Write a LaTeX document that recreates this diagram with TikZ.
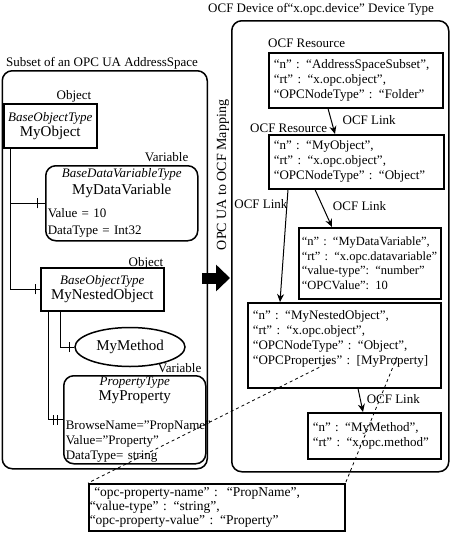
\documentclass[tikz,border=0pt]{standalone}
\usepackage{fontspec}
\setmainfont{Liberation Serif}
\usetikzlibrary{arrows.meta,shapes.geometric,decorations.markings}
\setlength{\parindent}{0pt}
\newcommand{\basefont}{\fontsize{13}{15}\selectfont}
\newcommand{\namefont}{\fontsize{15}{17}\selectfont}

\begin{document}
\begin{tikzpicture}[x=1pt,y=-1pt,
  every node/.style={font=\basefont},
  areabox/.style={draw,line width=1.5pt,rounded corners=10pt,anchor=north west,inner sep=0pt},
  uabox/.style={draw,line width=1.5pt,anchor=north west,align=left,inner xsep=2pt,inner ysep=0pt},
  resbox/.style={draw,line width=1.5pt,anchor=north west,align=left,inner xsep=5pt,inner ysep=0pt},
  lbl/.style={inner sep=0pt},
  ocflink/.style={line width=1pt,-{Stealth[length=8pt,width=7pt]}},
  onebar/.style={postaction={decorate,decoration={markings,
      mark=at position -#1 with {\draw[line width=0.8pt] (0,-5pt) -- (0,5pt);}}}},
  twobar/.style={postaction={decorate,decoration={markings,
      mark=at position -10pt with {\draw[line width=0.8pt] (0,-5pt) -- (0,5pt);},
      mark=at position -6pt with {\draw[line width=0.8pt] (0,-5pt) -- (0,5pt);}}}}]
\useasboundingbox (0,0) rectangle (474,533);

% OPC UA address space
\node[lbl,anchor=base west] (uatitle) at (6,66) {Subset of an OPC UA AddressSpace};
\node[areabox,minimum width=205,minimum height=398] (uaspace) at (1.5,70) {};

\node[uabox,align=center,text width=89,minimum height=44] (myobj) at (3,103)
  {\textit{BaseObjectType}\\{\namefont MyObject}};
\node[lbl,anchor=base east] (objlabel) at ([shift={(-6,-4)}]myobj.north east) {Object};

\node[uabox,rounded corners=10pt,text width=148,minimum height=75] (mydatavar) at (45,165)
  {{\centering\baselineskip=17pt\textit{BaseDataVariableType}\\{\namefont MyDataVariable}\par}%
   \vspace{6pt}{\baselineskip=17pt Value = 10\\DataType = Int32\par}};
\node[lbl,anchor=base east] (varlabel) at ([shift={(-10,-4)}]mydatavar.north east) {Variable};

\node[uabox,align=center,text width=119,minimum height=43] (nestobj) at (40,267)
  {\textit{BaseObjectType}\\{\namefont MyNestedObject}};
\node[lbl,anchor=base east] (nestlabel) at ([shift={(-1,-1)}]nestobj.north east) {Object};

\node[draw,line width=1.5pt,ellipse,minimum width=110,minimum height=39,inner sep=0pt,
  font=\namefont] (mymethod) at (130,347) {MyMethod};

\node[uabox,rounded corners=10pt,text width=138,minimum height=88] (myprop) at (63,375)
  {{\centering\textit{PropertyType}\\{\namefont MyProperty}\par}%
   \vspace{14pt}BrowseName="PropName"\\Value="Property"\\DataType= string};
\node[lbl,anchor=base east] (proplabel) at ([shift={(-5,-3)}]myprop.north east) {Variable};

% references
\draw[line width=0.8pt,onebar=8pt] ([xshift=7]myobj.south west) |- (mydatavar.west);
\draw[line width=0.8pt,onebar=5pt] ([xshift=7]myobj.south west) |- (nestobj.west);
\draw[line width=0.8pt,onebar=5pt] ([xshift=20]nestobj.south west) |- (mymethod.west);
\draw[line width=0.8pt,twobar] ([xshift=8]nestobj.south west) |- (myprop.west);

% mapping
\node[font=\fontsize{14}{16}\selectfont,rotate=90] (maplabel) at (223,175) {OPC UA to OCF Mapping};
\draw[line width=11pt,-{Triangle[length=14pt,width=26pt]}] (202,278) -- (230,278);

% OCF device
\node[lbl,anchor=base west] (ocftitle) at (208,12) {OCF Device of“x.opc.device” Device Type};
\node[areabox,minimum width=217,minimum height=451] (ocfdevice) at (231,20) {};

\node[resbox,text width=164,minimum height=55] (resroot) at (268,52)
  {“n” : “AddressSpaceSubset”,\\“rt” : “x.opc.object”,\\“OPCNodeType” : “Folder”};
\node[lbl,anchor=base west] (rootlabel) at ([shift={(0,-5)}]resroot.north west) {OCF Resource};

\node[resbox,text width=165,minimum height=54] (resobj) at (268,134)
  {“n” : “MyObject”,\\“rt” : “x.opc.object”,\\“OPCNodeType” : “Object”};
\node[lbl,anchor=base west] (objreslabel) at ([shift={(-18,-2)}]resobj.north west) {OCF Resource};

\node[resbox,inner xsep=3pt,text width=136,minimum height=71,font=\fontsize{12.5}{14.5}\selectfont] (resvar) at (298,227)
  {“n” : “MyDataVariable”,\\\mbox{“rt” : “x.opc.datavariable”}\\“value-type”: “number”\\“OPCValue”: 10};

\node[resbox,text width=183,minimum height=85] (resnest) at (247,302)
  {“n” : “MyNestedObject”,\\“rt” : “x.opc.object”,\\“OPCNodeType” : “Object”,\\“OPCProperties” : [MyProperty]\\ \mbox{}};

\node[resbox,text width=123,minimum height=46] (resmeth) at (307,412)
  {“n” : “MyMethod”,\\“rt” : “x.opc.method”};

\node[resbox,inner xsep=1pt,text width=254,minimum height=47,font=\fontsize{13.5}{14}\selectfont] (propmap) at (88,483)
  {\ “opc-property-name” :\ \ “PropName”,\\“value-type” : “string”,\\“opc-property-value” : “Property”};

% links
\draw[ocflink] ([xshift=60]resroot.south west) -- node[lbl,pos=0.45,anchor=west,xshift=11pt] (link1) {OCF Link} ([xshift=67]resobj.north west);
\draw[ocflink] ([xshift=20]resobj.south west) -- node[lbl,pos=0.13,anchor=east,xshift=1pt] (link2) {OCF Link} ([xshift=33]resnest.north west);
\draw[ocflink] ([xshift=47]resobj.south west) -- node[lbl,pos=0.44,anchor=west,xshift=10pt] (link3) {OCF Link} ([xshift=34]resvar.north west);
\draw[ocflink] ([xshift=111]resnest.south west) -- node[lbl,pos=0.45,anchor=west,xshift=6pt] (link4) {OCF Link} ([xshift=56]resmeth.north west);

% property mapping
\coordinate (propsrc) at ([shift={(83,60)}]resnest.north west);
\coordinate (propref) at ([shift={(150,55)}]resnest.north west);
\draw[dashed,line width=0.8pt] (propsrc) -- (propmap.north west);
\draw[dashed,line width=0.8pt] (propref) -- (propmap.north east);
\end{tikzpicture}
\end{document}
